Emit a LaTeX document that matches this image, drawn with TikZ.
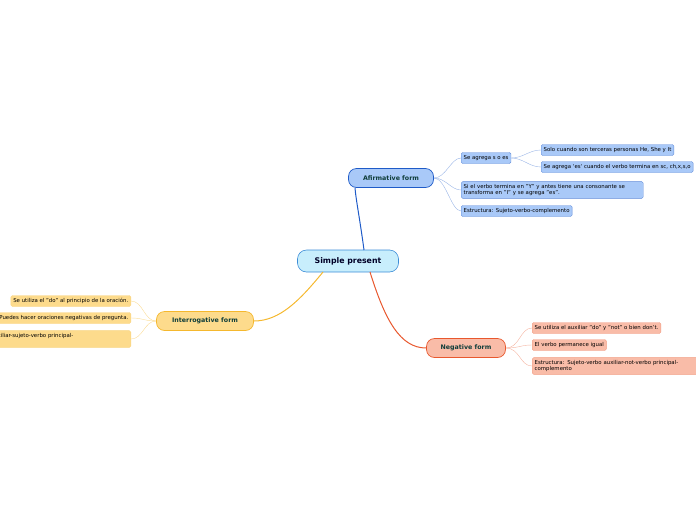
\documentclass[tikz,border=0pt]{standalone}
\usepackage{fontspec}
\setmainfont{DejaVu Sans}
\begin{document}
\begin{tikzpicture}[x=1pt,y=-1pt,
 leaf/.style={rounded corners=1.5pt,font=\fontsize{5.4}{6.6}\selectfont,inner sep=2.5pt,minimum height=11pt,align=left,anchor=west},
 aleaf/.style={leaf,draw=cAf!70,fill=cAfF},
 ileaf/.style={leaf,draw=cIn!60,fill=cInF},
 nleaf/.style={leaf,draw=cNe!60,fill=cNeF},
 branch/.style={rounded corners=8pt,font=\fontsize{6.3}{7}\selectfont\bfseries,text=textg,minimum height=19pt,line width=0.7pt},
 thin/.style={line width=0.4pt}]
\definecolor{cAf}{HTML}{1F5BC8}\definecolor{cAfF}{HTML}{A9C9F8}
\definecolor{cIn}{HTML}{F5B82E}\definecolor{cInF}{HTML}{FDDB8C}
\definecolor{cNe}{HTML}{E8582E}\definecolor{cNeF}{HTML}{F9BCA8}
\definecolor{textg}{HTML}{0F3D3A}
\useasboundingbox (0,0) rectangle (696,520);
\node[draw={rgb,255:red,60;green,140;blue,215},fill={rgb,255:red,200;green,238;blue,252},rounded corners=9pt,minimum width=101pt,minimum height=22pt,font=\fontsize{7.8}{9}\selectfont\bfseries,text=black!85!blue,line width=0.6pt] (c) at (348,261) {Simple present};
\node[branch,draw=cAf,fill=cAfF,minimum width=85pt] (a) at (391,178) {Afirmative form};
\node[branch,draw=cIn,fill=cInF,minimum width=97pt] (i) at (205,321) {Interrogative form};
\node[branch,draw=cNe,fill=cNeF,minimum width=79pt] (n) at (466,348) {Negative form};
\draw[cAf,line width=1pt] (364,250) .. controls (360,220) and (356,200) .. (355,188);
\draw[cIn,line width=1pt] (323,272) .. controls (300,300) and (280,321) .. (i.east);
\draw[cNe,line width=1pt] (370,272) .. controls (385,320) and (400,348) .. (n.west);
% afirmative leaves
\node[aleaf] (a1) at (461,158) {Se agrega s o es};
\node[aleaf] (a11) at (541,150) {Solo cuando son terceras personas He, She y It};
\node[aleaf] (a12) at (541,167) {Se agrega `es` cuando el verbo termina en sc, ch,x,s,o};
\node[aleaf,text width=177pt] (a2) at (461,190) {Si el verbo termina en "Y" y antes tiene una consonante se\\transforma en "I" y se agrega "es".};
\node[aleaf] (a3) at (461,211) {Estructura: Sujeto-verbo-complemento};
\foreach \t in {a1,a2,a3}
 \draw[thin,cAf!45] (a.east) .. controls +(12,0) and +(-10,0) .. (\t.west);
\foreach \t in {a11,a12}
 \draw[thin,cAf!45] (a1.east) .. controls +(12,0) and +(-12,0) .. (\t.west);
% interrogative leaves
\node[ileaf,anchor=east] (i1) at (131,301) {Se utiliza el "do" al principio de la oración.};
\node[ileaf,anchor=east] (i2) at (131,318) {Puedes hacer oraciones negativas de pregunta.};
\node[ileaf,anchor=east,text width=170pt] (i3) at (131,339) {Estructura: auxiliar-sujeto-verbo principal-\\complemento};
\foreach \t in {i1,i2,i3}
 \draw[thin,cIn!50] (i.west) .. controls +(-12,0) and +(12,0) .. (\t.east);
% negative leaves
\node[nleaf] (n1) at (532,328) {Se utiliza el auxiliar "do" y "not" o bien don't.};
\node[nleaf] (n2) at (532,345) {El verbo permanece igual};
\node[nleaf,text width=175pt] (n3) at (532,366) {Estructura: Sujeto-verbo auxiliar-not-verbo principal-\\complemento};
\foreach \t in {n1,n2,n3}
 \draw[thin,cNe!45] (n.east) .. controls +(14,0) and +(-12,0) .. (\t.west);
\end{tikzpicture}
\end{document}
